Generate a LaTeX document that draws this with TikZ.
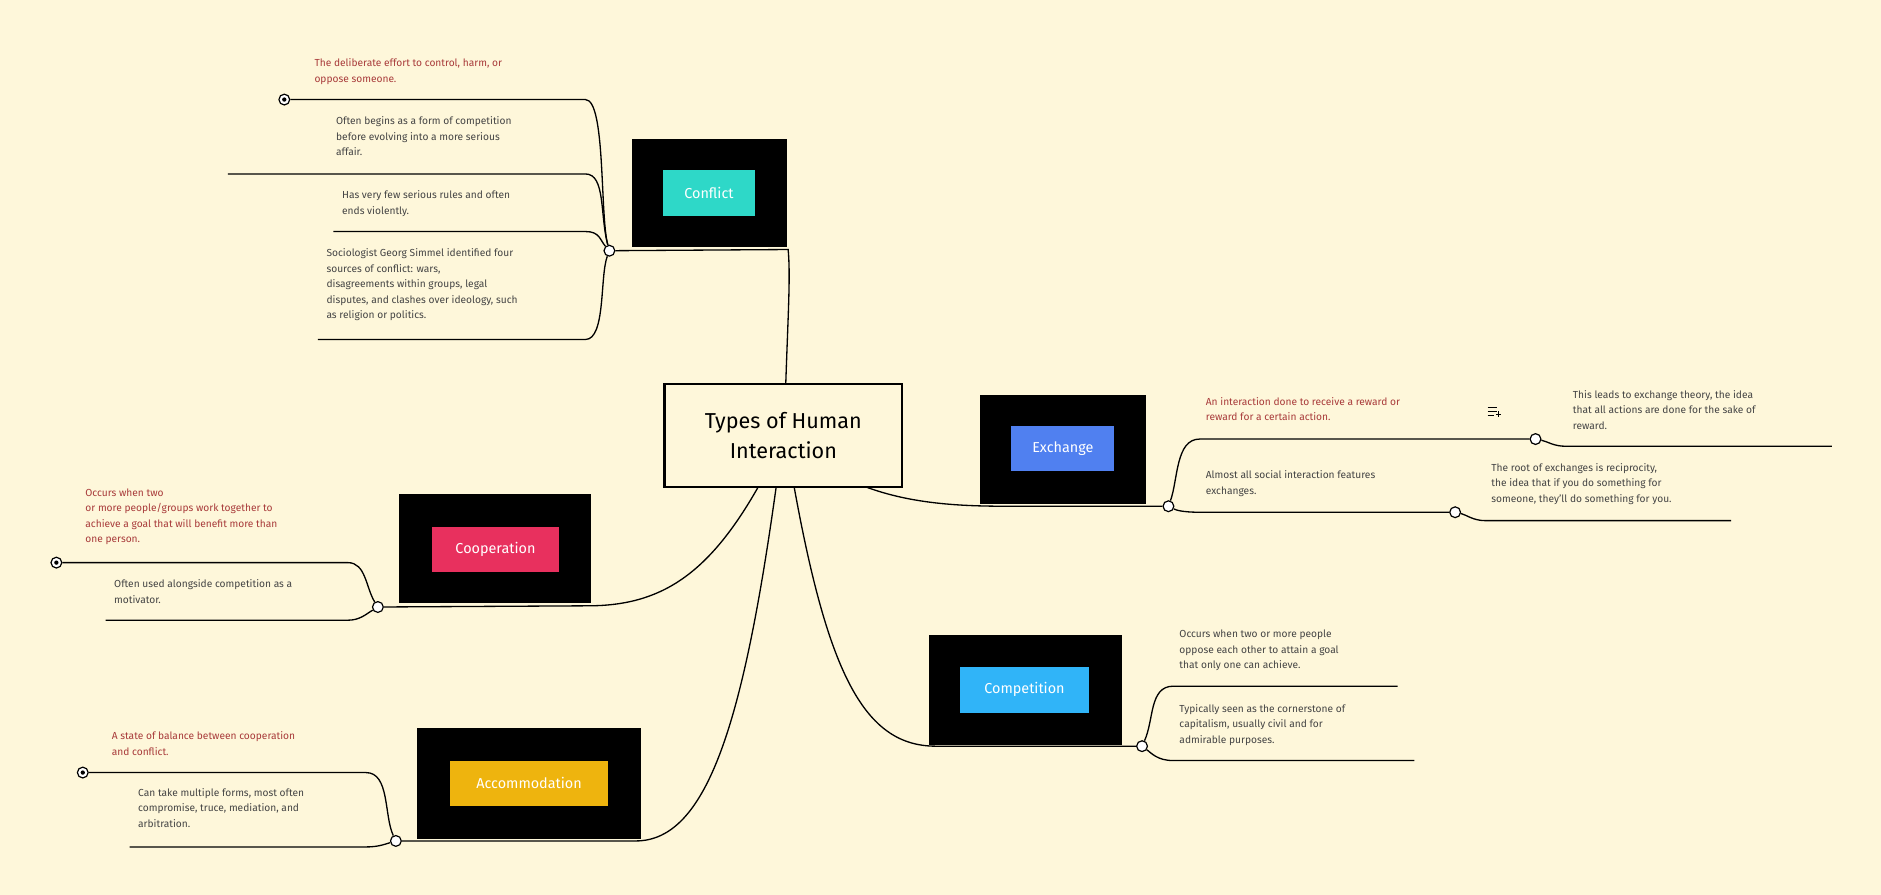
\documentclass[tikz,border=0pt]{standalone}
\usepackage{fontspec}
\setmainfont{Fira Sans}
\definecolor{bg}{HTML}{FEF7DA}
\definecolor{redt}{HTML}{A83A3A}
\definecolor{darkt}{HTML}{444444}
\definecolor{cteal}{HTML}{2ED8C8}
\definecolor{cpink}{HTML}{E8305E}
\definecolor{cyell}{HTML}{EEB40E}
\definecolor{cblue}{HTML}{30B4F8}
\definecolor{cexch}{HTML}{5080F0}
\begin{document}
\begin{tikzpicture}[x=1bp,y=-1bp,
  ln/.style={line width=1.1pt,black},
  jn/.style={circle,draw=black,line width=1pt,fill=white,inner sep=0pt,minimum size=9bp},
  en/.style={circle,draw=black,line width=1pt,fill=white,inner sep=0pt,minimum size=9bp,path picture={\fill[black] (path picture bounding box.center) circle (1.8bp);}},
  rt/.style={anchor=north west,text=redt,font=\fontsize{8.5bp}{13bp}\selectfont,align=left,inner sep=0pt},
  dt/.style={anchor=north west,text=darkt,font=\fontsize{8.5bp}{13bp}\selectfont,align=left,inner sep=0pt},
  blk/.style={fill=black,draw=none},
  lab/.style={text=white,font=\fontsize{12bp}{14bp}\selectfont,inner sep=0pt,minimum height=38bp}]
\fill[bg] (0,0) rectangle (1568,746);
\useasboundingbox (0,0) rectangle (1568,746);
% center
\node[draw=black,line width=2pt,fill=bg,minimum width=198bp,minimum height=86bp,align=center,font=\fontsize{18bp}{25bp}\selectfont] (c) at (653,363) {Types of Human\\Interaction};
% ---- Conflict
\fill[blk] (527,116) rectangle (656,206);
\node[lab,fill=cteal,minimum width=76bp] (conf) at (591,161) {Conflict};
\node[jn] (j1) at (508,209) {};
\draw[ln] (655,320) .. controls (657,260) and (659,230) .. (657,208) -- (j1);
\node[en] (e1) at (237,83) {};
\draw[ln] (j1) .. controls (500,180) and (505,83) .. (488,83) -- (e1);
\draw[ln] (j1) .. controls (500,180) and (505,145) .. (488,145) -- (190,145);
\draw[ln] (j1) .. controls (500,200) and (500,193) .. (488,193) -- (278,193);
\draw[ln] (j1) .. controls (500,230) and (505,283) .. (488,283) -- (265,283);
\node[rt] at (262,49) {The deliberate effort to control, harm, or\\oppose someone.};
\node[dt] at (280,97) {Often begins as a form of competition\\before evolving into a more serious\\affair.};
\node[dt] at (285,159) {Has very few serious rules and often\\ends violently.};
\node[dt] at (272,207) {Sociologist Georg Simmel identified four\\sources of conflict: wars,\\disagreements within groups, legal\\disputes, and clashes over ideology, such\\as religion or politics.};
% ---- Cooperation
\fill[blk] (333,412) rectangle (493,503);
\node[lab,fill=cpink,minimum width=106bp] (coop) at (413,458) {Cooperation};
\node[jn] (j2) at (315,506) {};
\draw[ln] (632,406) .. controls (590,480) and (550,505) .. (490,505) -- (j2);
\node[en] (e2) at (47,469) {};
\draw[ln] (j2) .. controls (305,490) and (305,469) .. (290,469) -- (e2);
\draw[ln] (j2) .. controls (305,512) and (300,517) .. (290,517) -- (88,517);
\node[rt] at (71,407) {Occurs when two\\or more people/groups work together to\\achieve a goal that will benefit more than\\one person.};
\node[dt] at (95,483) {Often used alongside competition as a\\motivator.};
% ---- Accommodation
\fill[blk] (348,607) rectangle (534,699);
\node[lab,fill=cyell,minimum width=132bp] (acc) at (441,653) {Accommodation};
\node[jn] (j3) at (330,701) {};
\draw[ln] (647,406) .. controls (620,600) and (590,701) .. (530,701) -- (j3);
\node[en] (e3) at (69,644) {};
\draw[ln] (j3) .. controls (320,680) and (325,644) .. (305,644) -- (e3);
\draw[ln] (j3) .. controls (320,704) and (315,706) .. (305,706) -- (108,706);
\node[rt] at (93,610) {A state of balance between cooperation\\and conflict.};
\node[dt] at (115,657) {Can take multiple forms, most often\\compromise, truce, mediation, and\\arbitration.};
% ---- Competition
\fill[blk] (774,529) rectangle (935,621);
\node[lab,fill=cblue,minimum width=107bp] (comp) at (854,575) {Competition};
\node[jn] (j4) at (952,622) {};
\draw[ln] (662,406) .. controls (690,560) and (720,622) .. (780,622) -- (j4);
\draw[ln] (j4) .. controls (962,600) and (958,572) .. (978,572) -- (1165,572);
\draw[ln] (j4) .. controls (960,628) and (965,634) .. (978,634) -- (1179,634);
\node[dt] at (983,525) {Occurs when two or more people\\oppose each other to attain a goal\\that only one can achieve.};
\node[dt] at (983,587) {Typically seen as the cornerstone of\\capitalism, usually civil and for\\admirable purposes.};
% ---- Exchange
\fill[blk] (817,329) rectangle (955,420);
\node[lab,fill=cexch,minimum width=86bp] (exch) at (886,374) {Exchange};
\node[jn] (j5) at (974,422) {};
\draw[ln] (722,406) .. controls (760,420) and (800,422) .. (840,422) -- (j5);
\node[jn] (k1) at (1280,366) {};
\node[jn] (k2) at (1213,427) {};
\draw[ln] (j5) .. controls (982,400) and (980,366) .. (1000,366) -- (k1);
\draw[ln] (j5) .. controls (980,425) and (985,427) .. (1000,427) -- (k2);
\draw[ln] (k1) .. controls (1290,368) and (1295,372) .. (1305,372) -- (1527,372);
\draw[ln] (k2) .. controls (1222,429) and (1228,434) .. (1238,434) -- (1443,434);
\node[rt] at (1005,331) {An interaction done to receive a reward or\\reward for a certain action.};
\node[dt] at (1005,392) {Almost all social interaction features\\exchanges.};
\node[dt] at (1311,325) {This leads to exchange theory, the idea\\that all actions are done for the sake of\\reward.};
\node[dt] at (1243,386) {The root of exchanges is reciprocity,\\the idea that if you do something for\\someone, they'll do something for you.};
\draw[black,line width=0.8pt] (1240,340)--(1248,340) (1240,343)--(1248,343) (1240,346)--(1245,346) (1249,343)--(1249,348) (1247,345.5)--(1251,345.5);
\end{tikzpicture}
\end{document}
